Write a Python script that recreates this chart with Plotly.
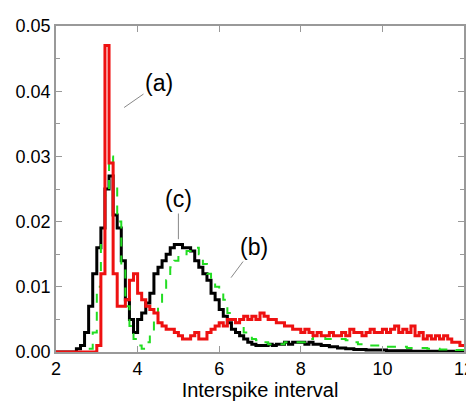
import plotly.graph_objects as go

# bin starts 2.0 .. 11.9, width 0.1
bins = [round(2.0 + 0.1 * i, 1) for i in range(100)]

hist_a = [0, 0, 0, 0, 0, 0, 0, 0, 0, 0,
          0.001, 0.012, 0.047, 0.029, 0.012, 0.007, 0.007, 0.008, 0.011, 0.012,
          0.009, 0.008, 0.007, 0.0065, 0.006, 0.0045, 0.004, 0.0035, 0.0035, 0.003,
          0.0025, 0.002, 0.002, 0.0025, 0.003, 0.002, 0.002, 0.003, 0.0035, 0.004,
          0.0045, 0.004, 0.005, 0.005, 0.0045, 0.005, 0.0055, 0.005, 0.0055, 0.005,
          0.006, 0.0055, 0.005, 0.005, 0.0045, 0.0045, 0.004, 0.004, 0.0035, 0.0035,
          0.003, 0.0035, 0.003, 0.0025, 0.003, 0.0025, 0.0025, 0.003, 0.0025, 0.0025,
          0.003, 0.0025, 0.0035, 0.003, 0.003, 0.0025, 0.003, 0.0035, 0.003, 0.003,
          0.0035, 0.003, 0.0035, 0.004, 0.003, 0.0035, 0.003, 0.004, 0.0025, 0.003,
          0.002, 0.0025, 0.002, 0.0025, 0.002, 0.0025, 0.002, 0.0015, 0.0015, 0.001]

hist_b = [0, 0, 0, 0, 0, 0, 0, 0, 0.0005, 0.003,
          0.010, 0.017, 0.024, 0.030, 0.026, 0.020, 0.013, 0.007, 0.004, 0.002,
          0.001, 0.0005, 0.0015, 0.003, 0.005, 0.007, 0.009, 0.011, 0.013, 0.014,
          0.015, 0.015, 0.0155, 0.016, 0.016, 0.015, 0.0135, 0.012, 0.011, 0.010,
          0.009, 0.008, 0.006, 0.005, 0.0045, 0.004, 0.003, 0.0025, 0.002, 0.0018,
          0.0015, 0.0015, 0.0012, 0.0012, 0.0012, 0.0012, 0.0015, 0.0015, 0.0015, 0.0015,
          0.0015, 0.002, 0.002, 0.0025, 0.0025, 0.0025, 0.002, 0.002, 0.002, 0.002,
          0.002, 0.0018, 0.0015, 0.0015, 0.0012, 0.0012, 0.001, 0.001, 0.001, 0.001,
          0.001, 0.0008, 0.0008, 0.0008, 0.0008, 0.0008, 0.0006, 0.0006, 0.0006, 0.0006,
          0.0006, 0.0005, 0.0005, 0.0005, 0.0004, 0.0004, 0.0004, 0.0004, 0.0003, 0.0003]

hist_c = [0, 0, 0, 0, 0, 0.0005, 0.001, 0.003, 0.007, 0.012,
          0.016, 0.019, 0.025, 0.027, 0.021, 0.019, 0.014, 0.008, 0.005, 0.003,
          0.005, 0.006, 0.0075, 0.009, 0.012, 0.013, 0.014, 0.015, 0.016, 0.0165,
          0.0165, 0.016, 0.016, 0.0155, 0.014, 0.013, 0.012, 0.011, 0.009, 0.008,
          0.0065, 0.0055, 0.0045, 0.0035, 0.003, 0.0025, 0.002, 0.0015, 0.0012, 0.001,
          0.001, 0.001, 0.0012, 0.001, 0.0012, 0.0012, 0.0015, 0.0012, 0.0015, 0.0015,
          0.0015, 0.0012, 0.0015, 0.0012, 0.0012, 0.001, 0.001, 0.0008, 0.0008, 0.0006,
          0.0006, 0.0005, 0.0005, 0.0004, 0.0004, 0.0004, 0.0003, 0.0003, 0.0003, 0.0003,
          0.0003, 0.0002, 0.0002, 0.0002, 0.0002, 0.0002, 0.0002, 0.0001, 0.0001, 0.0001,
          0.0001, 0.0001, 0.0001, 0.0001, 0.0001, 0.0001, 0.0001, 0.0001, 0.0001, 0.0001]

xs = bins + [12.0]


def step(vals):
    return vals + [vals[-1]]


fig = go.Figure()
fig.add_trace(go.Scatter(x=xs, y=step(hist_c), mode="lines", line=dict(color="black", width=3, shape="hv")))
fig.add_trace(go.Scatter(x=xs, y=step(hist_b), mode="lines",
                         line=dict(color="#22dd22", width=2, shape="hv", dash="dash")))
fig.add_trace(go.Scatter(x=xs, y=step(hist_a), mode="lines", line=dict(color="#ee1111", width=3, shape="hv")))

labels = [("(a)", 4.52, 0.0412, 3.67, 0.0375),
          ("(c)", 5.0, 0.0235, 5.0, 0.0173),
          ("(b)", 6.85, 0.0161, 6.29, 0.0114)]
for text, tx, ty, px, py in labels:
    fig.add_annotation(x=px, y=py, ax=tx, ay=ty, axref="x", ayref="y", text="",
                       showarrow=True, arrowhead=0, arrowwidth=1, arrowcolor="#888")
    fig.add_annotation(x=tx, y=ty, text=text, showarrow=False, font=dict(size=23, color="black"),
                       bgcolor="white")

axis = dict(showline=True, linecolor="#999", linewidth=1.5, mirror="ticks", ticks="inside",
            tickcolor="#999", ticklen=6, showgrid=False, zeroline=False,
            tickfont=dict(size=18, color="black"))
fig.update_layout(
    width=474, height=404, paper_bgcolor="white", plot_bgcolor="white",
    showlegend=False, font=dict(family="Liberation Sans, Arial, sans-serif", color="black"),
    margin=dict(l=44, r=14, t=8, b=60),
    xaxis=dict(axis, range=[2, 12], tickvals=[2, 4, 6, 8, 10, 12],
               title=dict(text="Interspike interval", font=dict(size=20), standoff=4)),
    yaxis=dict(axis, range=[0, 0.05], tickvals=[0, 0.01, 0.02, 0.03, 0.04, 0.05], tickformat=".2f",
               minor=dict(ticks="inside", tickvals=[0.005, 0.015, 0.025, 0.035, 0.045], ticklen=4, tickcolor="#999")),
)
fig.write_html("out.html")
